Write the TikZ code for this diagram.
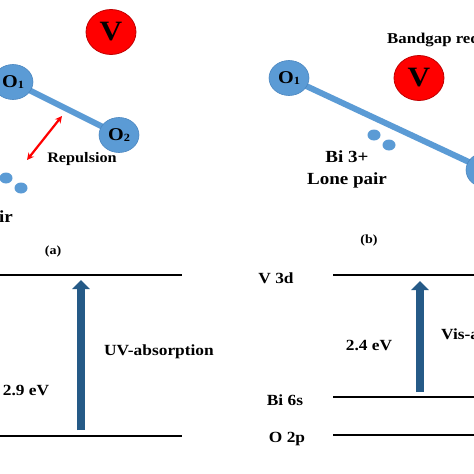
\documentclass[tikz,border=0pt]{standalone}
\usepackage{fontspec}
\setmainfont{Liberation Serif}[FakeStretch=1.12]
\usetikzlibrary{arrows.meta,shapes.geometric}
\definecolor{atomblue}{HTML}{5B9BD5}
\definecolor{atomedge}{HTML}{4A86C0}
\definecolor{arrowblue}{HTML}{255A87}
\definecolor{vred}{HTML}{FF0000}
\definecolor{vedge}{HTML}{C00000}
\newcommand{\lbl}[1]{\fontsize{15.5}{18}\selectfont\bfseries #1}
\newcommand{\osub}[1]{O\raisebox{-1.5pt}{\fontsize{11}{11}\selectfont #1}}
\begin{document}
\begin{tikzpicture}[x=1pt,y=-1pt,
  vatom/.style={ellipse,fill=vred,draw=vedge,line width=0.8pt,minimum width=50pt,minimum height=45pt,inner sep=0pt,font=\fontsize{28}{28}\selectfont\bfseries},
  oatom/.style={ellipse,fill=atomblue,draw=atomedge,line width=0.6pt,minimum width=40pt,minimum height=35pt,inner sep=0pt,font=\fontsize{18}{18}\selectfont\bfseries},
  lpdot/.style={ellipse,fill=atomblue,minimum width=13pt,minimum height=11pt,inner sep=0pt},
  bond/.style={atomblue,line width=6pt},
  txt/.style={inner sep=0pt,font=\lbl},
  level/.style={black,line width=2.6pt},
  bigarrow/.style={arrowblue,line width=8pt,-{Triangle[width=17pt,length=9pt]}},
  reparrow/.style={red,line width=2.2pt,{Stealth[length=7pt,width=7pt]}-{Stealth[length=7pt,width=7pt]}}
]
\useasboundingbox (0,0) rectangle (474,474);
\clip (0,0) rectangle (474,474);
\fill[white] (0,0) rectangle (474,474);

% ----- panel (a) structure
\coordinate (o1ac) at (13,82);
\coordinate (o2ac) at (119,135);
\draw[bond] (o1ac) -- (o2ac);
\node[oatom] (o1a) at (o1ac) {\osub{1}};
\node[oatom] (o2a) at (o2ac) {\osub{2}};
\node[vatom] (va) at (111,32) {V};
\node[lpdot] (da1) at (6,178) {};
\node[lpdot] (da2) at (21,188) {};
\coordinate (ra1) at (27,160);
\coordinate (ra2) at (62,116);
\draw[reparrow] (ra1) -- (ra2);
\node[txt,font=\fontsize{14.5}{16}\selectfont\bfseries] (rep) at (82,159) {Repulsion};
\node[txt,anchor=east,font=\fontsize{17}{20}\selectfont\bfseries] (lpa) at (13,218) {Lone pair};
\node[txt,font=\fontsize{12.5}{14}\selectfont\bfseries] (capa) at (53,251) {(a)};

% ----- panel (b) structure
\coordinate (o1bc) at (289,78);
\coordinate (o2bc) at (486,170);
\draw[bond] (o1bc) -- (o2bc);
\node[oatom] (o1b) at (o1bc) {\osub{1}};
\node[oatom] (o2b) at (o2bc) {};
\node[vatom] (vb) at (419,78) {V};
\node[lpdot] (db1) at (374,135) {};
\node[lpdot] (db2) at (389,145) {};
\node[txt,font=\fontsize{17}{20}\selectfont\bfseries] (bi3) at (347,157) {Bi 3+};
\node[txt,font=\fontsize{17}{20}\selectfont\bfseries] (lpb) at (347,180) {Lone pair};
\node[txt,anchor=west,font=\fontsize{15}{18}\selectfont\bfseries] (bg) at (387,40) {Bandgap reduction};
\node[txt,font=\fontsize{12.5}{14}\selectfont\bfseries] (capb) at (369,240) {(b)};

% ----- panel (a) levels
\coordinate (atl) at (0,275);
\coordinate (atr) at (182,275);
\coordinate (abl) at (0,436);
\coordinate (abr) at (182,436);
\draw[level] (atl) -- (atr);
\draw[level] (abl) -- (abr);
\coordinate (aa1) at (81,430);
\coordinate (aa2) at (81,280);
\draw[bigarrow] (aa1) -- (aa2);
\node[txt] (uv) at (159,352) {UV-absorption};
\node[txt] (ega) at (26,390) {2.9 eV};

% ----- panel (b) levels
\coordinate (btl) at (333,275);
\coordinate (btr) at (474,275);
\coordinate (bml) at (333,397);
\coordinate (bmr) at (474,397);
\coordinate (bbl) at (333,435);
\coordinate (bbr) at (474,435);
\draw[level] (btl) -- (btr);
\draw[level] (bml) -- (bmr);
\draw[level] (bbl) -- (bbr);
\coordinate (ba1) at (420,392);
\coordinate (ba2) at (420,281);
\draw[bigarrow] (ba1) -- (ba2);
\node[txt] (v3d) at (276,278) {V 3d};
\node[txt] (bi6s) at (285,400) {Bi 6s};
\node[txt] (o2p) at (287,439) {O 2p};
\node[txt] (egb) at (369,345) {2.4 eV};
\node[txt,anchor=west] (vis) at (441,336) {Vis-absorption};
\end{tikzpicture}
\end{document}
